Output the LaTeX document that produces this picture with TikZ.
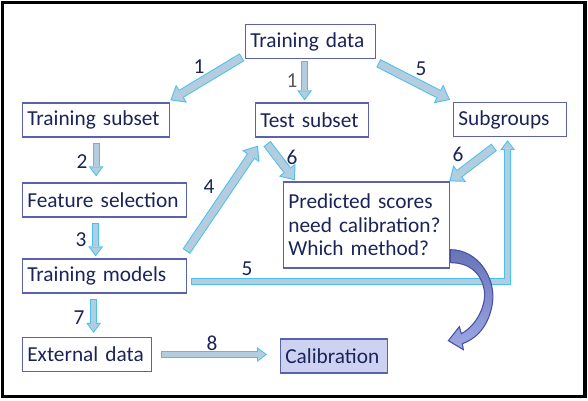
\documentclass[tikz,border=0pt]{standalone}
\usepackage{fontspec}
\setmainfont{Carlito}
\usetikzlibrary{arrows.meta,calc}

\definecolor{boxline}{RGB}{90,98,172}
\definecolor{navy}{RGB}{26,36,88}
\definecolor{arrowfill}{RGB}{180,205,222}
\definecolor{arrowedge}{RGB}{72,192,240}
\definecolor{calfill}{RGB}{205,209,242}
\definecolor{curvetop}{RGB}{104,116,184}
\definecolor{curvebot}{RGB}{158,168,230}
\definecolor{curveedge}{RGB}{70,82,158}

\tikzset{
  box/.style={draw=boxline, line width=1pt, text=navy, inner xsep=3.5pt, inner ysep=0pt,
    align=left, minimum height=25.5pt, anchor=west},
  lbl/.style={text=navy, inner sep=0pt},
  flow/.style={draw=arrowedge, line width=5.25pt,
    -{Triangle[length=7.5pt,width=11.25pt,line width=0pt]},
    postaction={draw=arrowfill, line width=3.75pt, shorten <=0.75pt, shorten >=1.25pt,
      -{Triangle[length=5.5pt,width=8.25pt,line width=0pt]}}},
  bigflow/.style={draw=arrowedge, line width=6.75pt,
    -{Triangle[length=9.75pt,width=15.75pt,line width=0pt]},
    postaction={draw=arrowfill, line width=5.25pt, shorten <=0.75pt, shorten >=1.2pt,
      -{Triangle[length=7.8pt,width=12.6pt,line width=0pt]}}},
  curvearrow/.style={draw=curveedge, line width=0.8pt, top color=curvetop, bottom color=curvebot}
}

\begin{document}
\begin{tikzpicture}[x=0.75pt,y=-0.75pt,font=\fontsize{16pt}{17.6pt}\selectfont]
  \useasboundingbox (0,0) rectangle (588,400);
  \draw[line width=2.6pt] (2.7,2.7) rectangle (584.8,396.5);

  % boxes
  \node[box, text width=90.5pt] (td) at (245,41.5) {Training data};
  \node[box, text width=103.25pt] (ts) at (22,120) {Training subset};
  \node[box, text width=77.75pt] (tst) at (255,120) {Test subset};
  \node[box, text width=77.75pt] (sg) at (453,119.5) {Subgroups};
  \node[box, text width=116pt] (fs) at (22,200) {Feature selection};
  \node[box, text width=116pt] (tm) at (22,276) {Training models};
  \node[box, text width=89.75pt] (ed) at (22,354.5) {External data};
  \node[box, text width=73.25pt, fill=calfill] (cal) at (280,356) {Calibration};
  \node[box, text width=117.5pt, minimum height=64.5pt] (pr) at (283,225)
    {Predicted scores\\need calibration?\\Which method?};

  % arrows
  \draw[bigflow] ($(td.south west)+(-3,-2)$) -- ($(ts.north east)+(0,-2)$);
  \draw[flow] ($(td.south)+(-6,2)$) -- ($(td.south |- tst.north)+(-6,-2)$);
  \draw[bigflow] ($(td.south east)+(2,4)$) -- ($(sg.north west)+(-3,-2)$);
  \draw[flow] ($(ts.south)+(0,5)$) -- ($(ts.south |- fs.north)+(0,-6)$);
  \draw[flow] ($(fs.south)+(-9,5)$) -- ($(fs.south |- tm.north)+(-9,-2)$);
  \draw[bigflow] ($(tm.north east)+(-1,-7)$) -- ($(tst.south west)+(3,8)$);
  \draw[bigflow] ($(tst.south west)+(12,6)$) -- ($(pr.north west)+(12,-1)$);
  \draw[bigflow] ($(sg.south)+(-16,10)$) -- ($(pr.north east)+(-1,0)$);
  \draw[flow] ($(tm.east)+(4,5)$) -| ($(sg.south)+(-2.5,3)$);
  \draw[flow] ($(tm.south)+(-11,5)$) -- ($(tm.south |- ed.north)+(-11,-4)$);
  \draw[flow] ($(ed.east)+(9,0)$) -- ($(ed.east -| cal.west)+(-13,0)$);

  % curved arrow to calibration
  \begin{scope}[shift={(pr.south east)}]
    \draw[curvearrow] (0,-19) .. controls (28,-19) and (46,10) .. (42,35)
      .. controls (39,54) and (29,69) .. (12,75) -- (13,81) -- (-2,72) -- (9,58) -- (11,65)
      .. controls (26,57) and (36,37) .. (34,22)
      .. controls (31,4) and (19,-6) .. (0,-6) -- cycle;
  \end{scope}

  % step numbers
  \node[lbl] (n1) at (199,67) {1};
  \node[lbl, text=black!65] (n1b) at (292,81) {1};
  \node[lbl] (n5a) at (421,69) {5};
  \node[lbl] (n2) at (82,162) {2};
  \node[lbl] (n3) at (81,240) {3};
  \node[lbl] (n4) at (209,187) {4};
  \node[lbl] (n6a) at (292,157) {6};
  \node[lbl] (n6b) at (458,154) {6};
  \node[lbl] (n5b) at (247,269) {5};
  \node[lbl] (n7) at (79,318) {7};
  \node[lbl] (n8) at (212,343) {8};
\end{tikzpicture}
\end{document}
